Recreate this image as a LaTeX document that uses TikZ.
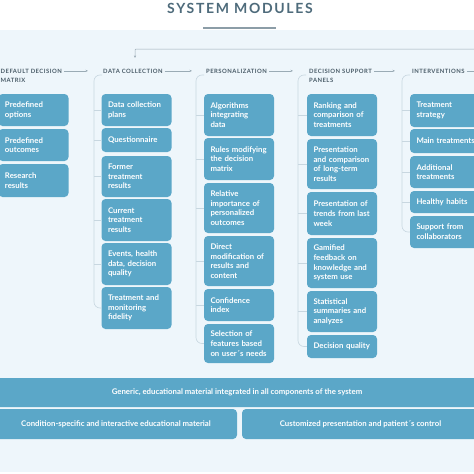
\documentclass[tikz,border=0pt]{standalone}
\usepackage{fontspec}
\setmainfont{Lato}
\usetikzlibrary{arrows.meta}
\definecolor{boxblue}{HTML}{5BA7C8}
\definecolor{panelc}{HTML}{EEF6FB}
\definecolor{headc}{HTML}{4A5C68}
\definecolor{titlec}{HTML}{4E6B7B}
\definecolor{treec}{HTML}{C8D7E0}
\definecolor{arrc}{HTML}{9AABB5}
\definecolor{ulc}{HTML}{8C9DA7}
\tikzset{
  mbox/.style={fill=boxblue, rounded corners=4pt, text=white, align=left,
    font=\bfseries\fontsize{7.8}{9.7}\selectfont, text width=57pt,
    inner xsep=6.5pt, inner ysep=0pt},
  bar/.style={fill=boxblue, rounded corners=4pt, text=white, align=center,
    font=\bfseries\fontsize{7.8}{9.7}\selectfont, inner sep=0pt},
  head/.style={anchor=base west, inner sep=0pt, text=headc,
    font=\bfseries\fontsize{5.9}{7}\selectfont\addfontfeatures{LetterSpace=8}},
  harrow/.style={draw=arrc, line width=0.5pt, -{Stealth[length=2.6pt,width=2.2pt]}},
  tree/.style={draw=treec, line width=0.6pt},
}
\begin{document}
\begin{tikzpicture}[x=1pt,y=-1pt]
\useasboundingbox (0,0) rectangle (474,474);
\fill[white] (0,0) rectangle (474,474);
\fill[panelc] (0,30) rectangle (474,472);
% title
\node[inner sep=0pt, text=titlec, font=\bfseries\fontsize{14}{16}\selectfont\addfontfeatures{LetterSpace=12}] (title) at (240,8.5) {SYSTEM MODULES};
\draw[ulc, line width=2pt] (203,27.5) -- (276,27.5);
% headers
\node[head] (h1) at (0.5,73) {DEFAULT DECISION};
\node[head] (h1b) at (0.5,82) {MATRIX};
\node[head] (h2) at (103,73) {DATA COLLECTION};
\node[head] (h3) at (206,73) {PERSONALIZATION};
\node[head] (h4) at (309,73) {DECISION SUPPORT};
\node[head] (h4b) at (309,82) {PANELS};
\node[head] (h5) at (412,73) {INTERVENTIONS};
\coordinate (a1) at (88,71);
\coordinate (a2) at (192,71);
\coordinate (a3) at (293,71);
\coordinate (a4) at (395,71);
\coordinate (a5) at (482,71);
\draw[harrow] ([xshift=2pt]h1.east) -- (a1 |- h1.east);
\draw[harrow] ([xshift=2pt]h2.east) -- (a2 |- h2.east);
\draw[harrow] ([xshift=2pt]h3.east) -- (a3 |- h3.east);
\draw[harrow] ([xshift=2pt]h4.east) -- (a4 |- h4.east);
\draw[harrow] ([xshift=2pt]h5.east) -- (a5 |- h5.east);
% feedback
\coordinate (fbs) at (480,49);
\coordinate (fbe) at (135,58);
\draw[harrow, rounded corners=1pt] (fbs) -| (fbe);
% column 1
\node[mbox, minimum height=32pt] (b11) at (33.5,110) {Predefined\\options};
\node[mbox, minimum height=32pt] (b12) at (33.5,145) {Predefined\\outcomes};
\node[mbox, minimum height=33pt] (b13) at (33.5,180.5) {Research\\results};
% column 2
\node[mbox, minimum height=32pt] (b21) at (136.5,110) {Data collection\\plans};
\node[mbox, minimum height=24pt] (b22) at (136.5,140) {Questionnaire};
\node[mbox, minimum height=41pt] (b23) at (136.5,176.5) {Former\\treatment\\results};
\node[mbox, minimum height=42pt] (b24) at (136.5,220) {Current\\treatment\\results};
\node[mbox, minimum height=42pt] (b25) at (136.5,264) {Events, health\\data, decision\\quality};
\node[mbox, minimum height=42pt] (b26) at (136.5,308) {Treatment and\\monitoring\\fidelity};
% column 3
\node[mbox, minimum height=42pt] (b31) at (239,115) {Algorithms\\integrating\\data};
\node[mbox, minimum height=42pt] (b32) at (239,159) {Rules modifying\\the decision\\matrix};
\node[mbox, minimum height=50pt] (b33) at (239,208) {Relative\\importance of\\personalized\\outcomes};
\node[mbox, minimum height=50pt] (b34) at (239,261) {Direct\\modification of\\results and\\content};
\node[mbox, minimum height=32pt] (b35) at (239,305) {Confidence\\index};
\node[mbox, minimum height=39pt] (b36) at (239,343.5) {Selection of\\features based\\on user´s needs};
% column 4
\node[mbox, minimum height=42pt] (b41) at (342,115) {Ranking and\\comparison of\\treatments};
\node[mbox, minimum height=50pt] (b42) at (342,164) {Presentation\\and comparison\\of long-term\\results};
\node[mbox, minimum height=43pt] (b43) at (342,213.5) {Presentation of\\trends from last\\week};
\node[mbox, minimum height=50pt] (b44) at (342,263) {Gamified\\feedback on\\knowledge and\\system use};
\node[mbox, minimum height=41pt] (b45) at (342,311.5) {Statistical\\summaries and\\analyzes};
\node[mbox, minimum height=23pt] (b46) at (342,346.5) {Decision quality};
% column 5
\node[mbox, minimum height=33pt] (b51) at (445,110.5) {Treatment\\strategy};
\node[mbox, minimum height=24pt] (b52) at (445,141) {\mbox{Main treatments}};
\node[mbox, minimum height=32pt] (b53) at (445,172) {Additional\\treatments};
\node[mbox, minimum height=22pt] (b54) at (445,202) {Healthy habits};
\node[mbox, minimum height=32pt] (b55) at (445,232) {Support from\\collaborators};
% trees
\coordinate (t2s) at (102,75); \coordinate (t2) at (94,75);
\coordinate (t3s) at (204,75); \coordinate (t3) at (196,75);
\coordinate (t4s) at (306,75); \coordinate (t4) at (298,75);
\coordinate (t5s) at (410,75); \coordinate (t5) at (402,75);
\draw[tree, rounded corners=6pt] (t2s) -- (t2) |- (b26.west);
\draw[tree, rounded corners=6pt] (t3s) -- (t3) |- (b36.west);
\draw[tree, rounded corners=6pt] (t4s) -- (t4) |- (b46.west);
\draw[tree, rounded corners=6pt] (t5s) -- (t5) |- (b55.west);
\foreach \b in {b21,b22,b23,b24,b25} \draw[tree] (t2 |- \b.west) -- (\b.west);
\foreach \b in {b31,b32,b33,b34,b35} \draw[tree] (t3 |- \b.west) -- (\b.west);
\foreach \b in {b41,b42,b43,b44,b45} \draw[tree] (t4 |- \b.west) -- (\b.west);
\foreach \b in {b51,b52,b53,b54} \draw[tree] (t5 |- \b.west) -- (\b.west);
% bottom bars
\node[bar, minimum width=484pt, minimum height=29pt] (g1) at (237,392.5) {Generic, educational material integrated in all components of the system};
\node[bar, minimum width=242pt, minimum height=30pt] (g2) at (116,424) {Condition-specific and interactive educational material};
\node[bar, minimum width=237pt, minimum height=30pt] (g3) at (360.5,424) {Customized presentation and patient´s control};
\end{tikzpicture}
\end{document}
